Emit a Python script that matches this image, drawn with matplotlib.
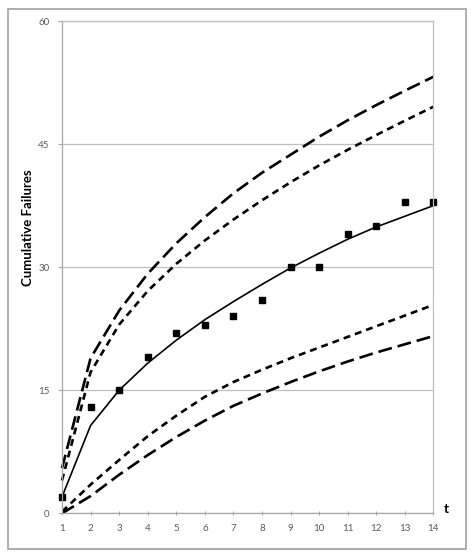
import matplotlib
matplotlib.use('Agg')
import matplotlib.pyplot as plt
from matplotlib.patches import Rectangle

plt.rcParams['font.family'] = ['Lato', 'DejaVu Sans']
plt.rcParams['lines.scale_dashes'] = False

# time points
t = list(range(1, 15))

# observed cumulative failures
observed = [2, 13, 15, 19, 22, 23, 24, 26, 30, 30, 34, 35, 38, 38]

# fitted mean value function
fitted = [2.0, 10.7, 15.0, 18.3, 21.1, 23.6, 25.8, 27.9, 29.9, 31.7, 33.4, 34.9, 36.2, 37.5]

# confidence bounds
upper_outer = [5.5, 18.9, 24.7, 29.2, 32.9, 36.1, 39.0, 41.5, 43.7, 45.9, 47.9, 49.75, 51.5, 53.2]
upper_inner = [4.0, 17.2, 23.0, 27.1, 30.4, 33.25, 35.8, 38.15, 40.35, 42.4, 44.3, 46.1, 47.85, 49.55]
lower_inner = [0.2, 3.5, 6.5, 9.4, 11.9, 14.2, 16.0, 17.5, 18.9, 20.2, 21.5, 22.8, 24.1, 25.4]
lower_outer = [0.0, 2.1, 4.7, 7.1, 9.3, 11.3, 13.1, 14.6, 16.0, 17.3, 18.5, 19.6, 20.6, 21.6]

fig = plt.figure(figsize=(4.74, 5.59), dpi=100)
ax = fig.add_axes([0.1308, 0.0817, 0.9142 - 0.1308, 0.9624 - 0.0817])

grid_col = '#bfbfbf'
ax.set_axisbelow(True)
ax.yaxis.grid(True, color=grid_col, linewidth=0.9)

long_dash = (0, (10, 4.3))
short_dash = (0, (5, 3.6))

ax.plot(t, upper_outer, color='black', linewidth=1.9, linestyle=long_dash, clip_on=False)
ax.plot(t, upper_inner, color='black', linewidth=1.9, linestyle=short_dash, clip_on=False)
ax.plot(t, fitted, color='black', linewidth=1.2)
ax.plot(t, lower_inner, color='black', linewidth=1.9, linestyle=short_dash)
ax.plot(t, lower_outer, color='black', linewidth=1.9, linestyle=long_dash)
ax.plot(t, observed, linestyle='none', marker='s', markersize=4.2, color='black', clip_on=False)

ax.set_xlim(1, 14)
ax.set_ylim(0, 60)
ax.set_xticks(t)
ax.set_yticks([0, 15, 30, 45, 60])

for s in ax.spines.values():
    s.set_color(grid_col)
    s.set_linewidth(0.9)
ax.spines['left'].set_color('#a6a6a6')
ax.spines['bottom'].set_color('#a6a6a6')

ax.tick_params(axis='both', colors='#a6a6a6', labelcolor='#595959', labelsize=7, length=3, width=0.8)
ax.tick_params(axis='x', direction='inout', pad=6)
ax.tick_params(axis='y', direction='out', pad=6)

fig.text(0.059, 0.592, 'Cumulative Failures', rotation=90, ha='center', va='center',
         fontsize=9.5, fontweight='bold')
fig.text(0.941, 0.078, 't', ha='center', va='bottom', fontsize=10, fontweight='bold')

# chart area border
fig.patches.append(Rectangle((8 / 474, 1 - 549 / 559), (466 - 8) / 474, (549 - 9) / 559,
                             transform=fig.transFigure, fill=False,
                             edgecolor='#a0a0a0', linewidth=1.2))

fig.savefig('out.png', dpi=100)
